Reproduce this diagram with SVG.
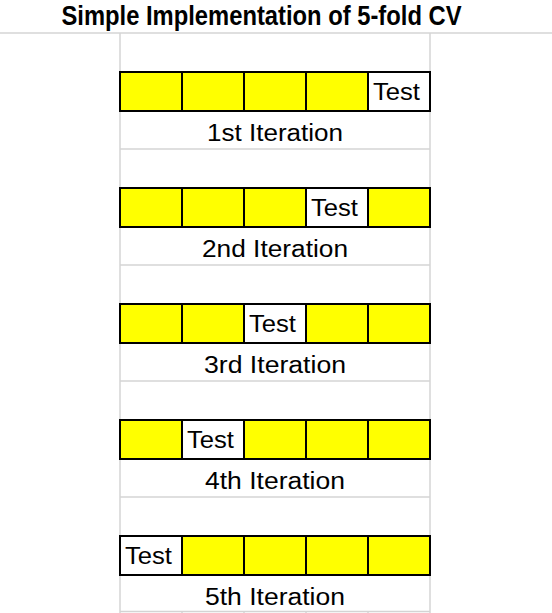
<svg xmlns="http://www.w3.org/2000/svg" width="552" height="613" viewBox="0 0 552 613">
<style>
.grid{stroke:#d4d4d4;stroke-width:1.5;fill:none}
.cell{stroke:#000;stroke-width:2}
.y{fill:#ffff00}
.w{fill:#ffffff}
.lbl{font-family:"Liberation Sans","Open Sans",sans-serif;font-size:23px;fill:#000}
.title{font-family:"Liberation Sans","Open Sans",sans-serif;font-size:27px;font-weight:bold;fill:#000}
</style>
<rect width="552" height="613" fill="#fff"/>
<g id="gridlines">
<line class="grid" x1="0" y1="33" x2="552" y2="33"/>
<line class="grid" x1="120" y1="33" x2="120" y2="613"/>
<line class="grid" x1="430" y1="33" x2="430" y2="613"/>
<line class="grid" x1="120" y1="149" x2="430" y2="149"/>
<line class="grid" x1="120" y1="265" x2="430" y2="265"/>
<line class="grid" x1="120" y1="381" x2="430" y2="381"/>
<line class="grid" x1="120" y1="497" x2="430" y2="497"/>
<line class="grid" x1="120" y1="611.5" x2="430" y2="611.5"/>
<line class="grid" x1="182" y1="611" x2="182" y2="613"/>
<line class="grid" x1="244" y1="611" x2="244" y2="613"/>
<line class="grid" x1="306" y1="611" x2="306" y2="613"/>
<line class="grid" x1="368" y1="611" x2="368" y2="613"/>
</g>
<text class="title" x="261.5" y="25" text-anchor="middle" textLength="400" lengthAdjust="spacingAndGlyphs">Simple Implementation of 5-fold CV</text>
<g id="iter1">
<rect class="cell y" x="120" y="72" width="62" height="39"/>
<rect class="cell y" x="182" y="72" width="62" height="39"/>
<rect class="cell y" x="244" y="72" width="62" height="39"/>
<rect class="cell y" x="306" y="72" width="62" height="39"/>
<rect class="cell w" x="368" y="72" width="62" height="39"/>
<text class="lbl" x="373" y="100" textLength="47" lengthAdjust="spacingAndGlyphs">Test</text>
<text class="lbl" x="275" y="141" text-anchor="middle" textLength="136" lengthAdjust="spacingAndGlyphs">1st Iteration</text>
</g>
<g id="iter2">
<rect class="cell y" x="120" y="188" width="62" height="39"/>
<rect class="cell y" x="182" y="188" width="62" height="39"/>
<rect class="cell y" x="244" y="188" width="62" height="39"/>
<rect class="cell w" x="306" y="188" width="62" height="39"/>
<rect class="cell y" x="368" y="188" width="62" height="39"/>
<text class="lbl" x="311" y="216" textLength="47" lengthAdjust="spacingAndGlyphs">Test</text>
<text class="lbl" x="275" y="257" text-anchor="middle" textLength="146" lengthAdjust="spacingAndGlyphs">2nd Iteration</text>
</g>
<g id="iter3">
<rect class="cell y" x="120" y="304" width="62" height="39"/>
<rect class="cell y" x="182" y="304" width="62" height="39"/>
<rect class="cell w" x="244" y="304" width="62" height="39"/>
<rect class="cell y" x="306" y="304" width="62" height="39"/>
<rect class="cell y" x="368" y="304" width="62" height="39"/>
<text class="lbl" x="249" y="332" textLength="47" lengthAdjust="spacingAndGlyphs">Test</text>
<text class="lbl" x="275" y="373" text-anchor="middle" textLength="142" lengthAdjust="spacingAndGlyphs">3rd Iteration</text>
</g>
<g id="iter4">
<rect class="cell y" x="120" y="420" width="62" height="39"/>
<rect class="cell w" x="182" y="420" width="62" height="39"/>
<rect class="cell y" x="244" y="420" width="62" height="39"/>
<rect class="cell y" x="306" y="420" width="62" height="39"/>
<rect class="cell y" x="368" y="420" width="62" height="39"/>
<text class="lbl" x="187" y="448" textLength="47" lengthAdjust="spacingAndGlyphs">Test</text>
<text class="lbl" x="275" y="489" text-anchor="middle" textLength="140" lengthAdjust="spacingAndGlyphs">4th Iteration</text>
</g>
<g id="iter5">
<rect class="cell w" x="120" y="536" width="62" height="39"/>
<rect class="cell y" x="182" y="536" width="62" height="39"/>
<rect class="cell y" x="244" y="536" width="62" height="39"/>
<rect class="cell y" x="306" y="536" width="62" height="39"/>
<rect class="cell y" x="368" y="536" width="62" height="39"/>
<text class="lbl" x="125" y="564" textLength="47" lengthAdjust="spacingAndGlyphs">Test</text>
<text class="lbl" x="275" y="605" text-anchor="middle" textLength="140" lengthAdjust="spacingAndGlyphs">5th Iteration</text>
</g>
</svg>
